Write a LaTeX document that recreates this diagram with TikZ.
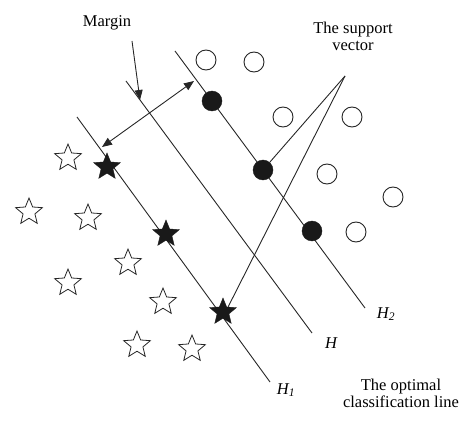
\documentclass[tikz,border=0pt]{standalone}
\usepackage{fontspec}
\setmainfont{Liberation Serif}
\usetikzlibrary{shapes.geometric,arrows.meta}
\begin{document}
\begin{tikzpicture}[x=1pt,y=-1pt,
  ln/.style={line width=0.9pt, draw=black!85},
  opencirc/.style={circle, draw=black!85, line width=0.9pt, fill=white, minimum size=20pt, inner sep=0pt},
  fullcirc/.style={circle, draw=black!90, fill=black!90, minimum size=20pt, inner sep=0pt},
  openstar/.style={star, star points=5, star point ratio=2.25, draw=black!85, line width=0.8pt, fill=white, minimum size=28pt, inner sep=0pt},
  fullstar/.style={star, star points=5, star point ratio=2.25, draw=black!90, fill=black!90, minimum size=28pt, inner sep=0pt},
  lbl/.style={font=\fontsize{16.5}{19}\selectfont, inner sep=1pt, align=center},
  hl/.style={font=\fontsize{16.5}{19}\selectfont\itshape, inner sep=1pt},
  tip/.style={-{Triangle[length=10pt,width=8pt]}}
]
\useasboundingbox (0,0) rectangle (474,425);
% separating lines
\coordinate (h1a) at (77,117);  \coordinate (h1b) at (270,382);
\coordinate (ha)  at (126,81);  \coordinate (hb)  at (312,333);
\coordinate (h2a) at (175,51);  \coordinate (h2b) at (365,308);
\draw[ln] (h1a) -- (h1b);
\draw[ln] (ha) -- (hb);
\draw[ln] (h2a) -- (h2b);
\node[hl] (lh1) at (286,390) {H\textsubscript{1}};
\node[hl] (lh)  at (331,343) {H};
\node[hl] (lh2) at (386,314) {H\textsubscript{2}};
% open circles
\node[opencirc] (c1) at (206,60) {};
\node[opencirc] (c2) at (254,62) {};
\node[opencirc] (c3) at (283,117) {};
\node[opencirc] (c4) at (352,117) {};
\node[opencirc] (c5) at (327,174) {};
\node[opencirc] (c6) at (393,197) {};
\node[opencirc] (c7) at (356,232) {};
% support circles
\node[fullcirc] (s1) at (212,101) {};
\node[fullcirc] (s2) at (263,170) {};
\node[fullcirc] (s3) at (312,231) {};
% open stars
\node[openstar] (t1) at (68,158) {};
\node[openstar] (t2) at (29,212) {};
\node[openstar] (t3) at (88,218) {};
\node[openstar] (t4) at (128,263) {};
\node[openstar] (t5) at (68,283) {};
\node[openstar] (t6) at (163,302) {};
\node[openstar] (t7) at (137,345) {};
\node[openstar] (t8) at (192,349) {};
% support stars
\node[fullstar] (f1) at (107,167) {};
\node[fullstar] (f2) at (166,234) {};
\node[fullstar] (f3) at (223,312) {};
% labels
\node[lbl] (margin) at (107,23) {Margin};
\node[lbl] (sv) at (353,36) {The support\\[-2pt]vector};
\node[lbl] (ocl) at (401,393) {The optimal\\[-2pt]classification line};
% margin arrows
\coordinate (ma) at (132,41);
\coordinate (mb) at (140,100);
\draw[ln, tip] (ma) -- (mb);
\coordinate (da) at (102,147);
\coordinate (db) at (194,81);
\draw[ln, {Triangle[length=10pt,width=8pt]}-{Triangle[length=10pt,width=8pt]}] (da) -- (db);
% support vector pointers
\coordinate (apex) at (345,76);
\draw[ln] (apex) -- (s2);
\draw[ln] (apex) -- (f3.north east);
\end{tikzpicture}
\end{document}
